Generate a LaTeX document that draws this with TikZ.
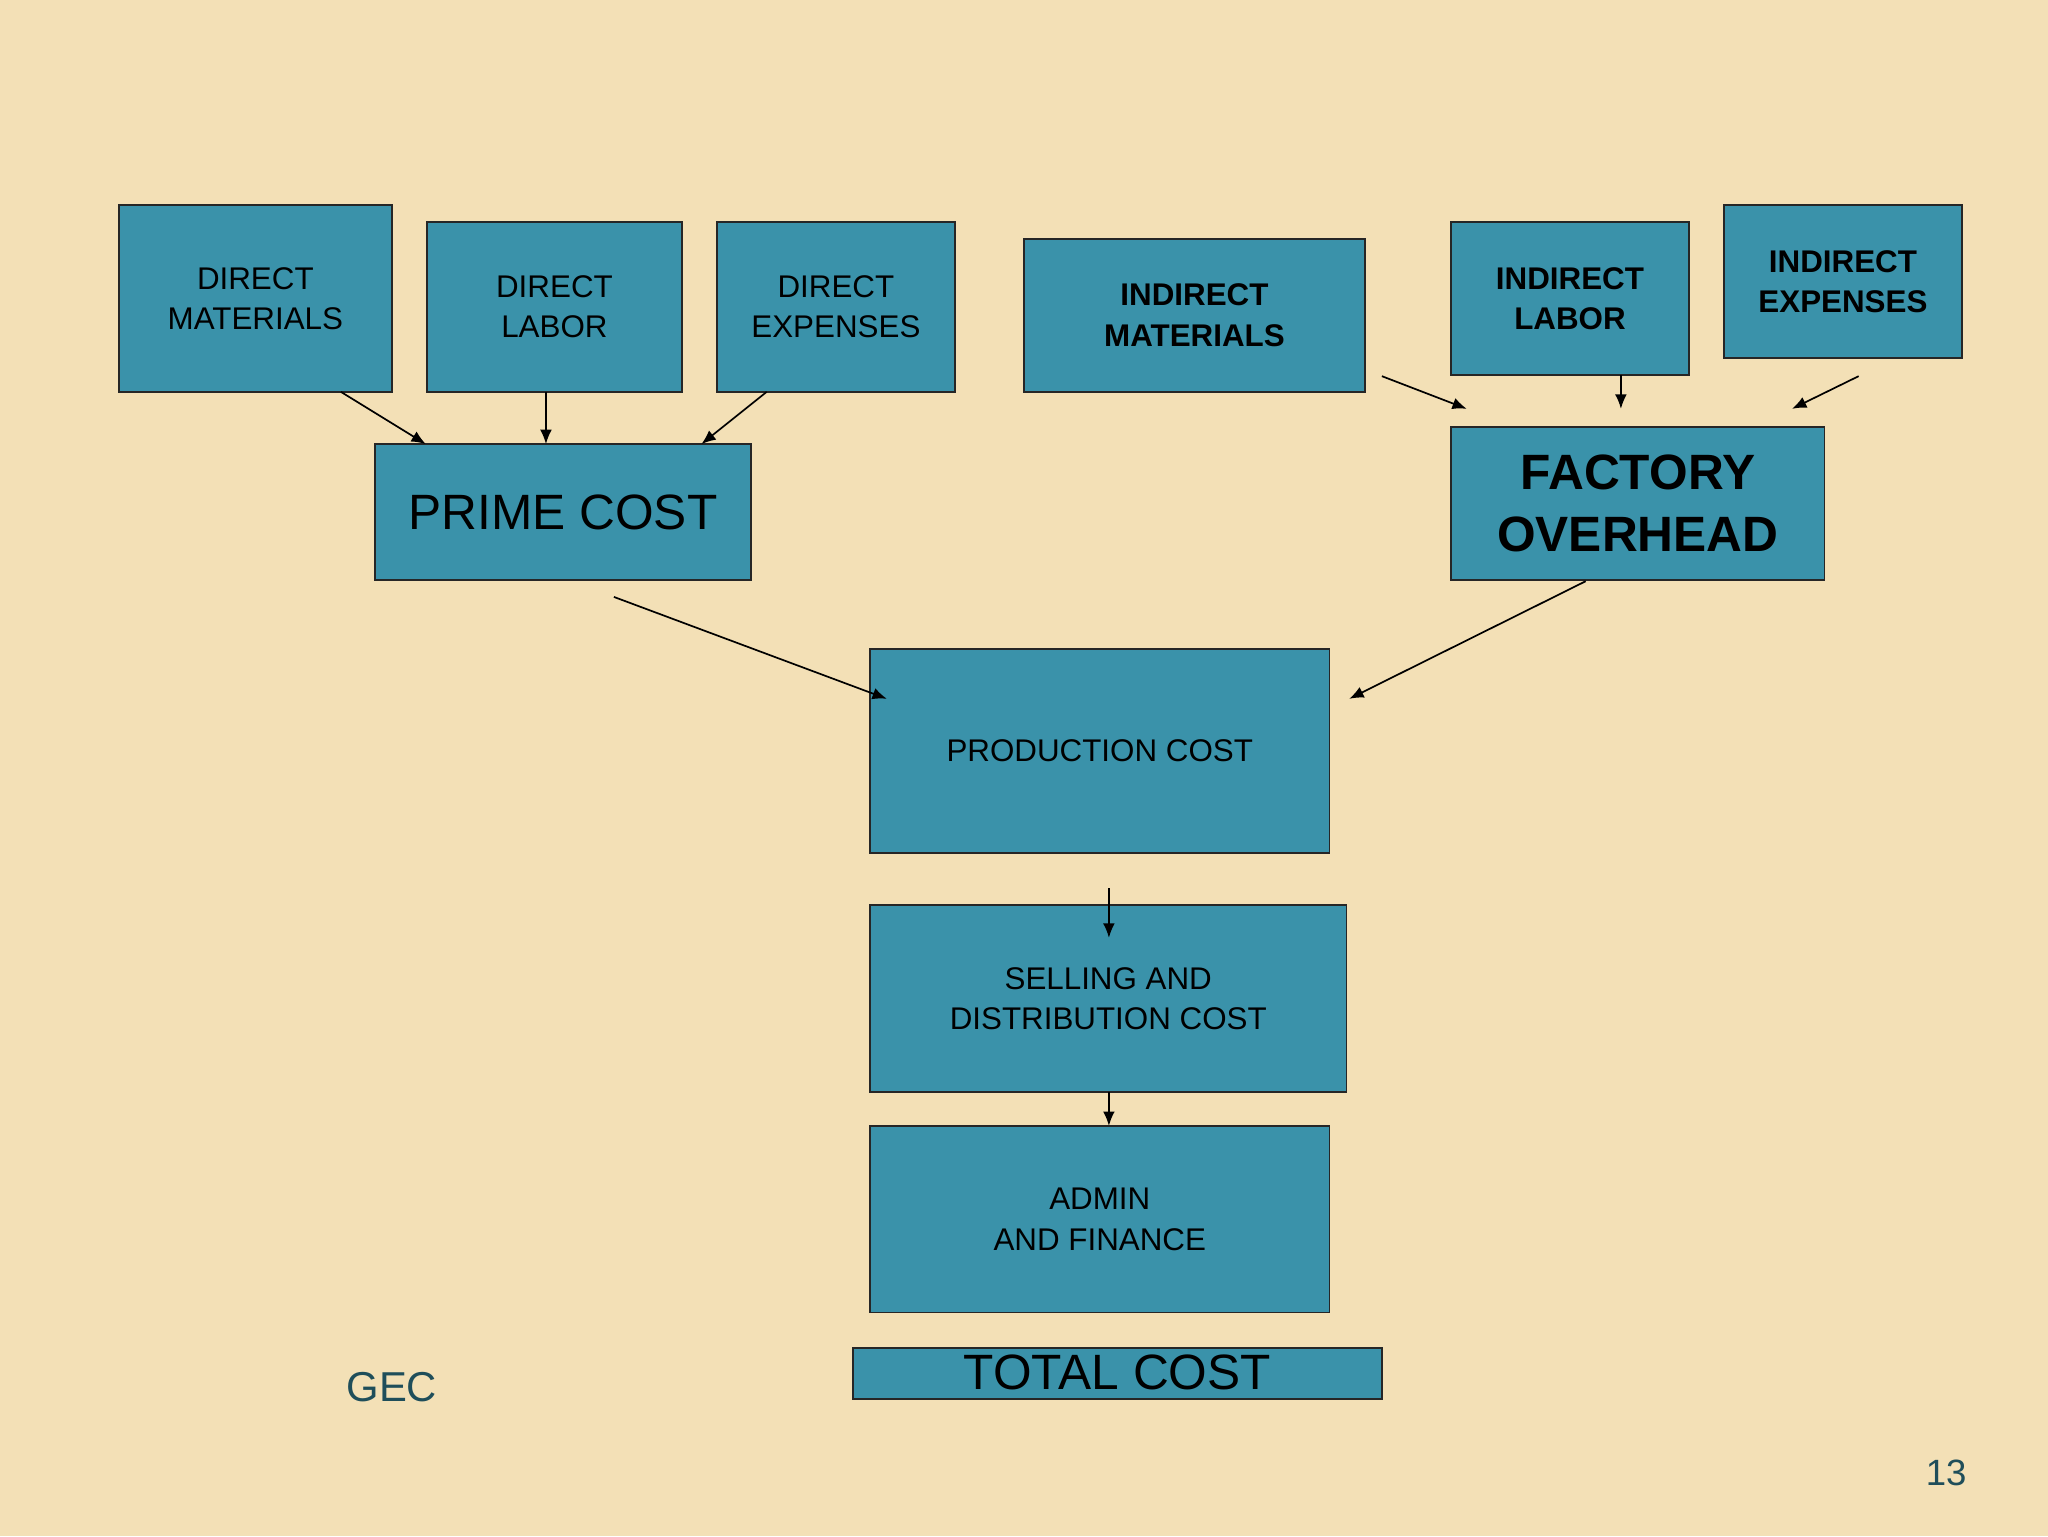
\documentclass[tikz,border=0pt]{standalone}
\usepackage{fontspec}
\setmainfont{Liberation Sans}
\usetikzlibrary{arrows.meta}
\definecolor{bg}{HTML}{F3E0B6}
\definecolor{bx}{HTML}{3A92AA}
\definecolor{gec}{HTML}{1F4E5A}
\begin{document}
\begin{tikzpicture}[x=1pt,y=-1pt,
 box/.style={draw=black!85,line width=1.2pt,fill=bx,align=center,inner sep=0pt,font=\fontsize{24}{31}\selectfont},
 bbox/.style={box,font=\fontsize{24}{31}\selectfont\bfseries},
 arr/.style={-{Latex[length=11pt,width=9pt]},line width=1.3pt}]
\fill[bg] (0,0) rectangle (1568,1176);
\useasboundingbox (0,0) rectangle (1568,1176);
\newcommand{\bxat}[6]{\node[#1,minimum width=#4-#2,minimum height=#5-#3] (#6) at ({(#2+#4)/2},{(#3+#5)/2}) {};}
\bxat{box}{91}{157}{300}{300}{dm}
\node[font=\fontsize{24}{31}\selectfont,align=center] at (dm) {DIRECT\\ MATERIALS};
\bxat{box}{327}{170}{522}{300}{dl}
\node[font=\fontsize{24}{31}\selectfont,align=center] at (dl) {DIRECT\\LABOR};
\bxat{box}{549}{170}{731}{300}{de}
\node[font=\fontsize{24}{31}\selectfont,align=center] at (de) {DIRECT\\EXPENSES};
\bxat{box}{784}{183}{1045}{300}{im}
\node[font=\fontsize{24}{31}\selectfont\bfseries,align=center] at (im) {INDIRECT\\MATERIALS};
\bxat{box}{1111}{170}{1293}{287}{il}
\node[font=\fontsize{24}{31}\selectfont\bfseries,align=center] at (il) {INDIRECT\\LABOR};
\bxat{box}{1320}{157}{1502}{274}{ie}
\node[font=\fontsize{24}{31}\selectfont\bfseries,align=center] at (ie) {INDIRECT\\EXPENSES};
\bxat{box}{287}{340}{575}{444}{pc}
\node[font=\fontsize{38}{46}\selectfont] at (pc) {PRIME COST};
\bxat{box}{1111}{327}{1397}{444}{fo}
\node[font=\fontsize{38}{47}\selectfont\bfseries,align=center] at (fo) {FACTORY\\OVERHEAD};
\bxat{box}{666}{497}{1018}{653}{pr}
\node[font=\fontsize{24}{31}\selectfont] at (pr) {PRODUCTION COST};
\bxat{box}{666}{693}{1031}{836}{sd}
\node[font=\fontsize{24}{31}\selectfont,align=center] at (sd) {SELLING AND\\ DISTRIBUTION COST};
\bxat{box}{666}{862}{1018}{1005}{ad}
\node[font=\fontsize{24}{31}\selectfont,align=center] at (ad) {ADMIN\\AND FINANCE};
\bxat{box}{653}{1032}{1058}{1071}{tc}
\node[font=\fontsize{38}{46}\selectfont] at ([yshift=1]tc) {TOTAL COST};
\node[text=gec,font=\fontsize{32}{38}\selectfont] (g) at (300,1062) {GEC};
\node[text=gec,font=\fontsize{28}{34}\selectfont] (n) at (1490,1128) {13};
\coordinate (a1) at (261,300); \coordinate (b1) at (326,340);
\coordinate (a2) at (418,300); \coordinate (b2) at (418,340);
\coordinate (a3) at (587,300); \coordinate (b3) at (537,340);
\coordinate (a4) at (1058,288); \coordinate (b4) at (1123,313);
\coordinate (a5) at (1241,287); \coordinate (b5) at (1241,313);
\coordinate (a6) at (1423,288); \coordinate (b6) at (1372,313);
\coordinate (a7) at (470,457); \coordinate (b7) at (679,535);
\coordinate (a8) at (1214,445); \coordinate (b8) at (1033,535);
\coordinate (a9) at (849,680); \coordinate (b9) at (849,718);
\coordinate (a10) at (849,836); \coordinate (b10) at (849,862);
\foreach \i in {1,...,10}{\draw[arr] (a\i) -- (b\i);}
\end{tikzpicture}
\end{document}
